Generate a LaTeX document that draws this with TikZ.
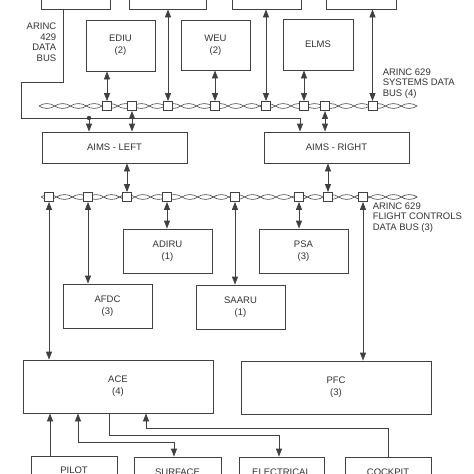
\documentclass[tikz,border=0pt]{standalone}
\usepackage{fontspec}
\setmainfont{Liberation Sans}
\usetikzlibrary{arrows.meta}
\newcommand\twistbus[4]{%
  \foreach \i in {1,...,#2} {
    \pgfmathsetmacro\xa{#1+(\i-1)*#4}
    \pgfmathsetmacro\xb{#1+\i*#4}
    \draw[line width=0.6pt] (\xa,#3) .. controls (\xa+4,#3-3.2) and (\xb-4,#3-3.2) .. (\xb,#3)
      .. controls (\xb-4,#3+3.2) and (\xa+4,#3+3.2) .. (\xa,#3);
  }%
}
\begin{document}
\begin{tikzpicture}[x=1pt,y=-1pt,line width=0.85pt,color=black!75,
  box/.style={draw, rectangle, inner sep=0pt, font=\fontsize{9.5}{12}\selectfont, align=center, text=black!80},
  sq/.style={draw, fill=white, minimum size=9pt, inner sep=0pt},
  lbl/.style={font=\fontsize{9.5}{10.5}\selectfont, text=black!80},
  ar/.style={-{Triangle[length=8pt,width=6pt]}},
  bar/.style={{Triangle[length=8pt,width=6pt]}-{Triangle[length=8pt,width=6pt]}}]
\fill[white] (0,0) rectangle (474,474);
\useasboundingbox (0,0) rectangle (474,474);
\begin{scope}
\clip (0,0) rectangle (474,474);
% top row (cut off)
\node[box, minimum width=69pt, minimum height=39pt] (t1) at (75.5,-10.5) {};
\node[box, minimum width=77pt, minimum height=39pt] (t2) at (167.5,-10.5) {};
\node[box, minimum width=69pt, minimum height=39pt] (t3) at (266.5,-10.5) {};
\node[box, minimum width=70pt, minimum height=39pt] (t4) at (361,-10.5) {};
% second row
\node[box, minimum width=69pt, minimum height=51pt] (ediu) at (120.5,45.5) {EDIU\\(2)};
\node[box, minimum width=69pt, minimum height=50pt] (weu) at (215.5,45) {WEU\\(2)};
\node[box, minimum width=70pt, minimum height=51pt] (elms) at (318,44.5) {ELMS};
\node[lbl, align=right, anchor=east] (a429) at (60,42) {ARINC\\429\\DATA\\BUS};
\node[lbl, align=left, anchor=west] (s629) at (379,83.5) {ARINC 629\\SYSTEMS DATA\\BUS (4)};
% systems bus
\twistbus{39}{24}{106}{15.75}
\foreach \n/\xx in {1/107,2/132,3/168,4/215,5/266,6/304,7/325,8/372.5}
  \node[sq] (a\n) at (\xx,106) {};
% AIMS
\node[box, minimum width=145pt, minimum height=31pt] (aimsl) at (114.5,147.5) {AIMS - LEFT};
\node[box, minimum width=145pt, minimum height=31pt] (aimsr) at (336.5,147.5) {AIMS - RIGHT};
% flight controls bus
\twistbus{41}{24}{197}{15.67}
\foreach \n/\xx in {1/49,2/88,3/127,4/167,5/235,6/299,7/328,8/363}
  \node[sq] (b\n) at (\xx,197) {};
\node[lbl, align=left, anchor=west] (f629) at (369,217.5) {ARINC 629\\FLIGHT CONTROLS\\DATA BUS (3)};
% lower boxes
\node[box, minimum width=89pt, minimum height=44pt] (adiru) at (167.5,251) {ADIRU\\(1)};
\node[box, minimum width=89pt, minimum height=44pt] (psa) at (303.5,251) {PSA\\(3)};
\node[box, minimum width=89pt, minimum height=44pt] (afdc) at (107.5,306) {AFDC\\(3)};
\node[box, minimum width=89pt, minimum height=44pt] (saaru) at (240.5,307) {SAARU\\(1)};
\node[box, minimum width=190pt, minimum height=53pt] (ace) at (118,386.5) {ACE\\(4)};
\node[box, minimum width=190pt, minimum height=53pt] (pfc) at (336,387.5) {PFC\\(3)};
% bottom row (cut off)
\node[box, minimum width=86pt, minimum height=50pt] (pilot) at (74,481) {};
\node[box, minimum width=87pt, minimum height=50pt] (surface) at (177.5,482) {};
\node[box, minimum width=85pt, minimum height=50pt] (elec) at (281.5,482) {};
\node[box, minimum width=86pt, minimum height=50pt] (cockpit) at (388,482) {};
\node[lbl] (pilott) at (74,470.5) {PILOT};
\node[lbl] (surfacet) at (177.5,472.5) {SURFACE};
\node[lbl] (elect) at (281.5,472.5) {ELECTRICAL};
\node[lbl] (cockpitt) at (388,472.5) {COCKPIT};
% systems bus connectors
\draw[bar] (ediu.south -| a1) -- (a1.north);
\draw[bar] (t2.south -| a3) -- (a3.north);
\draw[bar] (weu.south -| a4) -- (a4.north);
\draw[bar] (t3.south -| a5) -- (a5.north);
\draw[bar] (elms.south -| a6) -- (a6.north);
\draw[bar] (t4.south -| a8) -- (a8.north);
\draw[bar] (a2.south) -- (aimsl.north -| a2);
\draw[bar] (a7.south) -- (aimsr.north -| a7);
% ARINC 429
\coordinate (k1) at (63,82);
\coordinate (k2) at (21,118);
\coordinate (k3) at (300,118);
\coordinate (kd) at (89,118);
\draw[ar] (t1.south -| k1) -- (k1) -| (k2) -- (k3) -- (aimsr.north -| k3);
\fill (kd) circle (2.2pt);
\draw[ar] (kd) -- (aimsl.north -| kd);
% flight controls bus connectors
\draw[bar] (aimsl.south -| b3) -- (b3.north);
\draw[bar] (aimsr.south -| b7) -- (b7.north);
\draw[bar] (b4.south) -- (adiru.north -| b4);
\draw[bar] (b6.south) -- (psa.north -| b6);
\draw[bar] (b1.south) -- (ace.north -| b1);
\draw[bar] (b2.south) -- (afdc.north -| b2);
\draw[bar] (b5.south) -- (saaru.north -| b5);
\draw[bar] (b8.south) -- (pfc.north -| b8);
% bottom connectors
\coordinate (p1) at (50,456);
\coordinate (s1) at (78,442);
\coordinate (s2) at (174,442);
\coordinate (e1) at (109,435);
\coordinate (e2) at (279,435);
\coordinate (q1) at (388,428);
\coordinate (q2) at (146,428);
\draw[ar] (pilot.north -| p1) -- (ace.south -| p1);
\draw[bar] (ace.south -| s1) -- (s1) -- (s2) -- (surface.north -| s2);
\draw[ar] (ace.south -| e1) -- (e1) -- (e2) -- (elec.north -| e2);
\draw[ar] (cockpit.north -| q1) -- (q1) -- (q2) -- (ace.south -| q2);
\end{scope}
\end{tikzpicture}
\end{document}
